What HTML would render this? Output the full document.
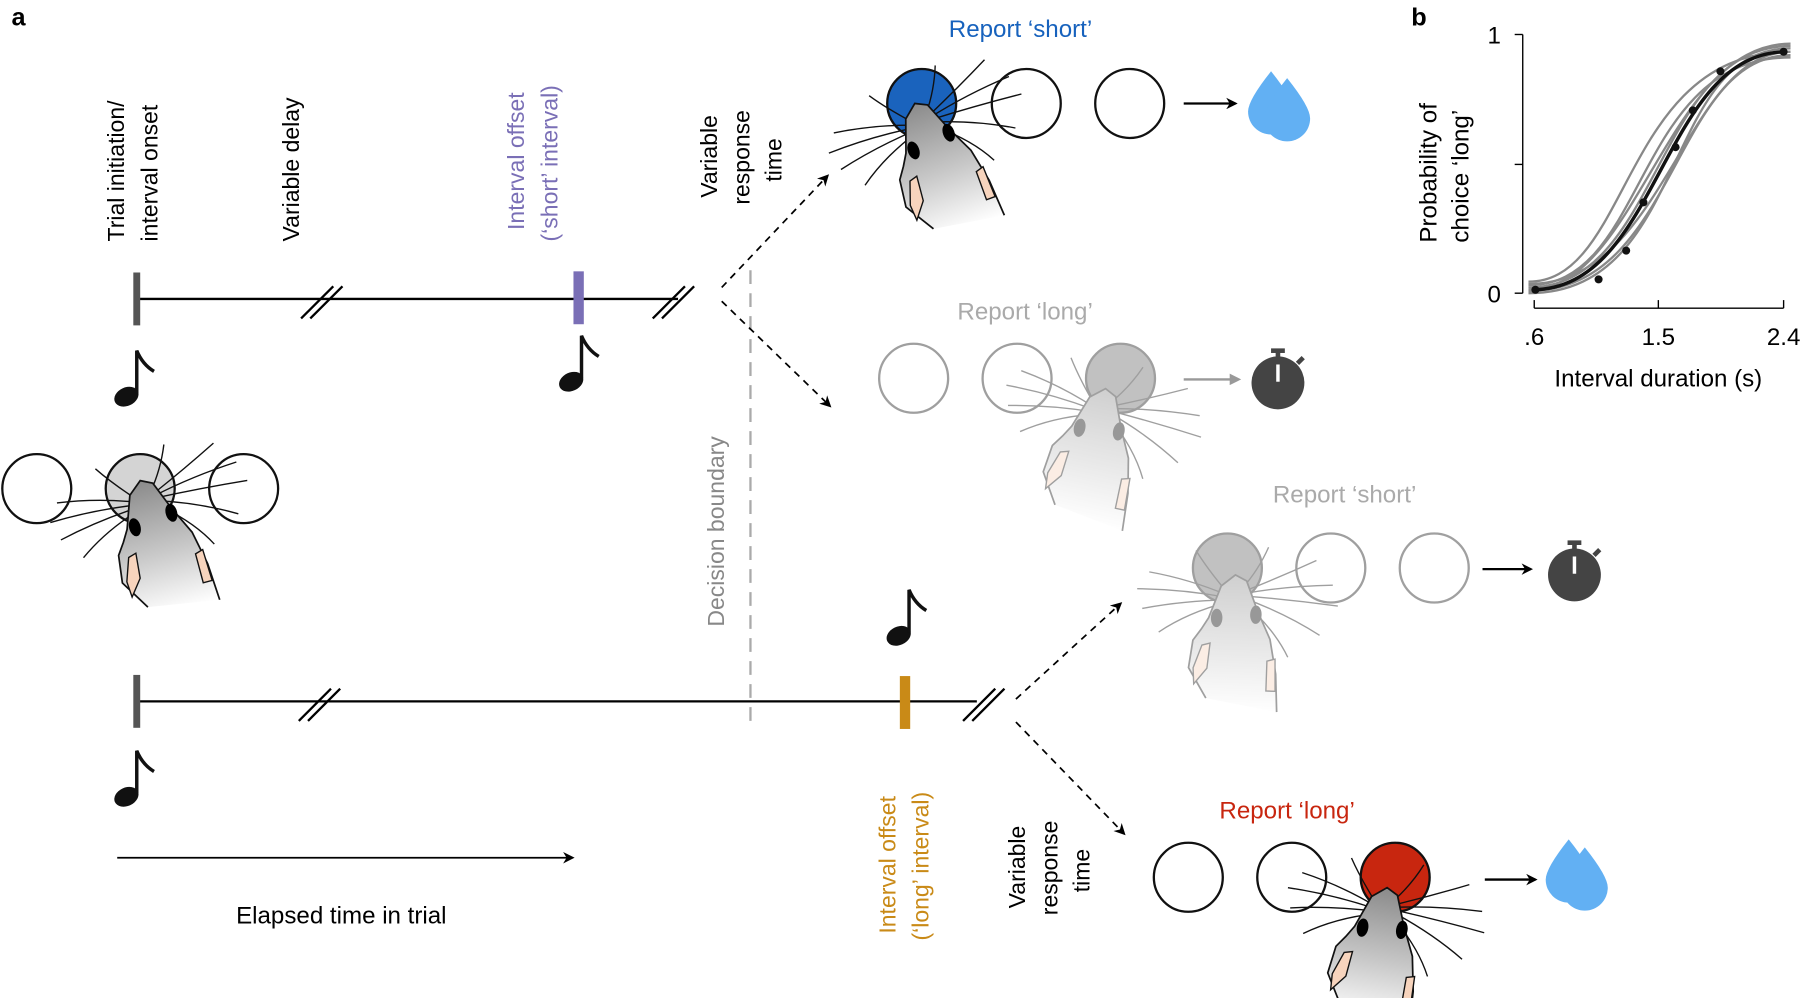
<!DOCTYPE html>
<html><head><meta charset="utf-8"><style>
html,body{margin:0;padding:0;background:#fff;}
svg{display:block;}
text{font-family:"Liberation Sans",sans-serif;}
</style></head><body>
<svg width="1802" height="998" viewBox="0 0 1568 868" preserveAspectRatio="none" xmlns="http://www.w3.org/2000/svg">
<defs>
<linearGradient id="hg" x1="0" y1="0" x2="0" y2="1">
<stop offset="0" stop-color="#8a8a8a"/><stop offset="0.55" stop-color="#c8c8c8"/><stop offset="1" stop-color="#fff"/></linearGradient>
<marker id="ah" markerWidth="10" markerHeight="10" refX="8" refY="5" orient="auto" markerUnits="userSpaceOnUse"><path d="M0,0 L10,5 L0,10 L3,5 Z" fill="#000"/></marker>
<g id="mouse">
<g fill="none" stroke="#111" stroke-width="1.2">
<path d="M-6,18 Q-40,5 -75,0"/><path d="M-6,20 Q-45,14 -85,15"/><path d="M-6,22 Q-45,24 -80,32"/><path d="M-6,24 Q-40,34 -65,52"/><path d="M-8,14 Q-25,-5 -35,-20"/>
<path d="M8,14 Q40,0 70,-15"/><path d="M8,16 Q45,8 85,6"/><path d="M8,18 Q50,20 90,24"/><path d="M8,20 Q45,32 75,50"/><path d="M6,22 Q35,45 48,70"/><path d="M6,12 Q20,-5 28,-25"/>
</g>
<path d="M0,0 L10,5 L20,30 L32,55 L38,85 L40,118 L-22,108 L-38,82 L-35,58 L-28,48 L-22,38 L-12,10 Z" fill="url(#hg)"/>
<path d="M40,118 L38,85 L32,55 L20,30 L10,5 L0,0 L-12,10 L-22,38 L-28,48 L-35,58 L-38,82 L-22,108" fill="none" stroke="#111" stroke-width="1.5"/>
<ellipse cx="-15" cy="38" rx="5" ry="8" fill="#000"/>
<ellipse cx="19" cy="34" rx="5" ry="8" fill="#000"/>
<path d="M-27,62 L-20,60 L-22,82 L-33,96 L-34,82 Z" fill="#f7d4bd" stroke="#111" stroke-width="1.2"/>
<path d="M30,74 L37,72 L38,100 L30,100 Z" fill="#f7d4bd" stroke="#111" stroke-width="1.2"/>
</g>
<g id="drop"><path d="M0,0 Q-20,25 -20,35 A20,20 0 0 0 20,35 Q20,25 0,0Z"/></g>
<g id="note"><ellipse cx="0" cy="0" rx="11" ry="8" transform="rotate(-25)" fill="#111"/><path d="M9,-3 L9,-40 Q14,-28 24,-22" fill="none" stroke="#111" stroke-width="3"/></g>
<g id="watch"><circle cx="0" cy="0" r="23" fill="#444"/><rect x="-6" y="-30" width="12" height="4" fill="#444"/><rect x="-2" y="-27" width="4" height="5" fill="#444"/><path d="M17,-17 l5,-5" stroke="#444" stroke-width="4"/><rect x="-1.5" y="-16" width="3" height="15" fill="#fff"/></g>
</defs>

<text x="10" y="22" font-size="22" font-weight="bold">a</text>
<text x="1228" y="22" font-size="22" font-weight="bold">b</text>

<line x1="120" y1="260" x2="590" y2="260" stroke="#000" stroke-width="2"/>
<rect x="116" y="237" width="6" height="46" fill="#555"/>
<rect x="499" y="236" width="9" height="46" fill="#7a6fb6"/>
<g stroke="#000" stroke-width="2"><line x1="262" y1="277" x2="290" y2="249"/><line x1="270" y1="277" x2="298" y2="249"/><line x1="568" y1="277" x2="596" y2="249"/><line x1="576" y1="277" x2="604" y2="249"/></g>
<use href="#note" x="110" y="345"/>
<use href="#note" x="497" y="332"/>

<text transform="translate(108,210) rotate(-90)" font-size="20">Trial initiation/</text>
<text transform="translate(137,210) rotate(-90)" font-size="20">interval onset</text>
<text transform="translate(260,210) rotate(-90)" font-size="20">Variable delay</text>
<text transform="translate(456,200) rotate(-90)" font-size="20" fill="#7a6fb6">Interval offset</text>
<text transform="translate(485,210) rotate(-90)" font-size="20" fill="#7a6fb6">(‘short’ interval)</text>
<text transform="translate(624,172) rotate(-90)" font-size="20">Variable</text>
<text transform="translate(652,178) rotate(-90)" font-size="20">response</text>
<text transform="translate(680,158) rotate(-90)" font-size="20">time</text>

<line x1="653" y1="235" x2="653" y2="630" stroke="#aaa" stroke-width="2" stroke-dasharray="12,8"/>
<text transform="translate(630,545) rotate(-90)" font-size="20" fill="#888">Decision boundary</text>

<g stroke="#000" stroke-width="1.5" stroke-dasharray="6,5" fill="none">
<line x1="628" y1="250" x2="720" y2="153" marker-end="url(#ah)"/>
<line x1="628" y1="262" x2="722" y2="353" marker-end="url(#ah)"/>
<line x1="884" y1="608" x2="975" y2="525" marker-end="url(#ah)"/>
<line x1="884" y1="628" x2="978" y2="725" marker-end="url(#ah)"/>
</g>

<text x="888" y="32" font-size="21" fill="#1762bd" text-anchor="middle">Report ‘short’</text>
<circle cx="802" cy="90" r="30" fill="#1a63bd" stroke="#111" stroke-width="2"/>
<circle cx="893" cy="90" r="30" fill="none" stroke="#111" stroke-width="2"/>
<circle cx="983" cy="90" r="30" fill="none" stroke="#111" stroke-width="2"/>
<use href="#mouse" transform="translate(796,90) rotate(-20)"/>
<line x1="1030" y1="90" x2="1075" y2="90" stroke="#000" stroke-width="2" marker-end="url(#ah)"/>
<g fill="#62b0f3"><use href="#drop" x="1106" y="62"/><use href="#drop" x="1120" y="68"/></g>

<text x="892" y="278" font-size="21" fill="#aaa" text-anchor="middle">Report ‘long’</text>
<g opacity="0.4">
<circle cx="795" cy="329" r="30" fill="none" stroke="#111" stroke-width="2"/>
<circle cx="885" cy="329" r="30" fill="none" stroke="#111" stroke-width="2"/>
<circle cx="975" cy="329" r="30" fill="#666" stroke="#111" stroke-width="2"/>
<use href="#mouse" transform="translate(962,338) rotate(12)"/>
</g>
<line x1="1030" y1="330" x2="1075" y2="330" stroke="#999" stroke-width="2"/>
<path d="M1070,325 L1080,330 L1070,335Z" fill="#999"/>
<use href="#watch" x="1112" y="333"/>

<circle cx="32" cy="425" r="30" fill="none" stroke="#111" stroke-width="2"/>
<circle cx="122" cy="425" r="30" fill="#d4d4d4" stroke="#111" stroke-width="2"/>
<circle cx="212" cy="425" r="30" fill="none" stroke="#111" stroke-width="2"/>
<use href="#mouse" transform="translate(122,418) rotate(-15)"/>

<line x1="120" y1="610" x2="850" y2="610" stroke="#000" stroke-width="2"/>
<rect x="116" y="587" width="6" height="46" fill="#555"/>
<rect x="783" y="588" width="9" height="46" fill="#c98a17"/>
<g stroke="#000" stroke-width="2"><line x1="260" y1="627" x2="288" y2="599"/><line x1="268" y1="627" x2="296" y2="599"/><line x1="838" y1="627" x2="866" y2="599"/><line x1="846" y1="627" x2="874" y2="599"/></g>
<use href="#note" x="110" y="693"/>
<use href="#note" x="782" y="553"/>
<text transform="translate(779,812) rotate(-90)" font-size="20" fill="#c98a17">Interval offset</text>
<text transform="translate(808,818) rotate(-90)" font-size="20" fill="#c98a17">(‘long’ interval)</text>
<text transform="translate(892,790) rotate(-90)" font-size="20">Variable</text>
<text transform="translate(920,796) rotate(-90)" font-size="20">response</text>
<text transform="translate(948,776) rotate(-90)" font-size="20">time</text>

<line x1="102" y1="746" x2="498" y2="746" stroke="#000" stroke-width="1.5" marker-end="url(#ah)"/>
<text x="297" y="803" font-size="21" text-anchor="middle">Elapsed time in trial</text>

<text x="1170" y="437" font-size="21" fill="#aaa" text-anchor="middle">Report ‘short’</text>
<g opacity="0.4">
<circle cx="1068" cy="494" r="30" fill="#666" stroke="#111" stroke-width="2"/>
<circle cx="1158" cy="494" r="30" fill="none" stroke="#111" stroke-width="2"/>
<circle cx="1248" cy="494" r="30" fill="none" stroke="#111" stroke-width="2"/>
<use href="#mouse" transform="translate(1075,500) rotate(2)"/>
</g>
<line x1="1290" y1="495" x2="1332" y2="495" stroke="#000" stroke-width="2" marker-end="url(#ah)"/>
<use href="#watch" x="1370" y="500"/>

<text x="1120" y="712" font-size="21" fill="#c8260f" text-anchor="middle">Report ‘long’</text>
<circle cx="1034" cy="763" r="30" fill="none" stroke="#111" stroke-width="2"/>
<circle cx="1124" cy="763" r="30" fill="none" stroke="#111" stroke-width="2"/>
<circle cx="1214" cy="763" r="30" fill="#c8260f" stroke="#111" stroke-width="2"/>
<use href="#mouse" transform="translate(1207,772) rotate(10)"/>
<line x1="1292" y1="765" x2="1336" y2="765" stroke="#000" stroke-width="2" marker-end="url(#ah)"/>
<g fill="#62b0f3"><use href="#drop" x="1365" y="730"/><use href="#drop" x="1379" y="737"/></g>

<g stroke="#000" stroke-width="1.2" fill="none">
<line x1="1325" y1="30" x2="1325" y2="255"/>
<line x1="1318" y1="30" x2="1325" y2="30"/><line x1="1318" y1="143" x2="1325" y2="143"/><line x1="1318" y1="255" x2="1325" y2="255"/>
<line x1="1335" y1="268" x2="1552" y2="268"/>
<line x1="1335" y1="268" x2="1335" y2="261"/><line x1="1443" y1="268" x2="1443" y2="261"/><line x1="1552" y1="268" x2="1552" y2="261"/>
</g>
<g stroke="#888" stroke-width="2" fill="none">
<path d="M1330,245 C1420,245 1410,45 1558,45"/>
<path d="M1330,250 C1445,250 1440,40 1558,40"/>
<path d="M1330,253 C1460,253 1455,48 1558,48"/>
<path d="M1330,248 C1435,248 1420,50 1558,50"/>
<path d="M1330,255 C1470,255 1445,42 1558,42"/>
<path d="M1330,247 C1450,247 1465,45 1558,45"/>
<path d="M1330,252 C1425,252 1450,38 1558,38"/>
</g>
<path d="M1333,252 C1445,252 1445,45 1555,45" stroke="#111" stroke-width="3" fill="none"/>
<g fill="#111"><circle cx="1336" cy="252" r="3.5"/><circle cx="1391" cy="243" r="3.5"/><circle cx="1415" cy="218" r="3.5"/><circle cx="1430" cy="176" r="3.5"/><circle cx="1458" cy="128" r="3.5"/><circle cx="1473" cy="96" r="3.5"/><circle cx="1497" cy="62" r="3.5"/><circle cx="1552" cy="45" r="3.5"/></g>
<text x="1306" y="38" font-size="21" text-anchor="end">1</text>
<text x="1306" y="263" font-size="21" text-anchor="end">0</text>
<text x="1335" y="300" font-size="21" text-anchor="middle">.6</text>
<text x="1443" y="300" font-size="21" text-anchor="middle">1.5</text>
<text x="1552" y="300" font-size="21" text-anchor="middle">2.4</text>
<text x="1443" y="336" font-size="21" text-anchor="middle">Interval duration (s)</text>
<text transform="translate(1250,211) rotate(-90)" font-size="21">Probability of</text>
<text transform="translate(1278,211) rotate(-90)" font-size="21">choice ‘long’</text>
</svg>
</body></html>
